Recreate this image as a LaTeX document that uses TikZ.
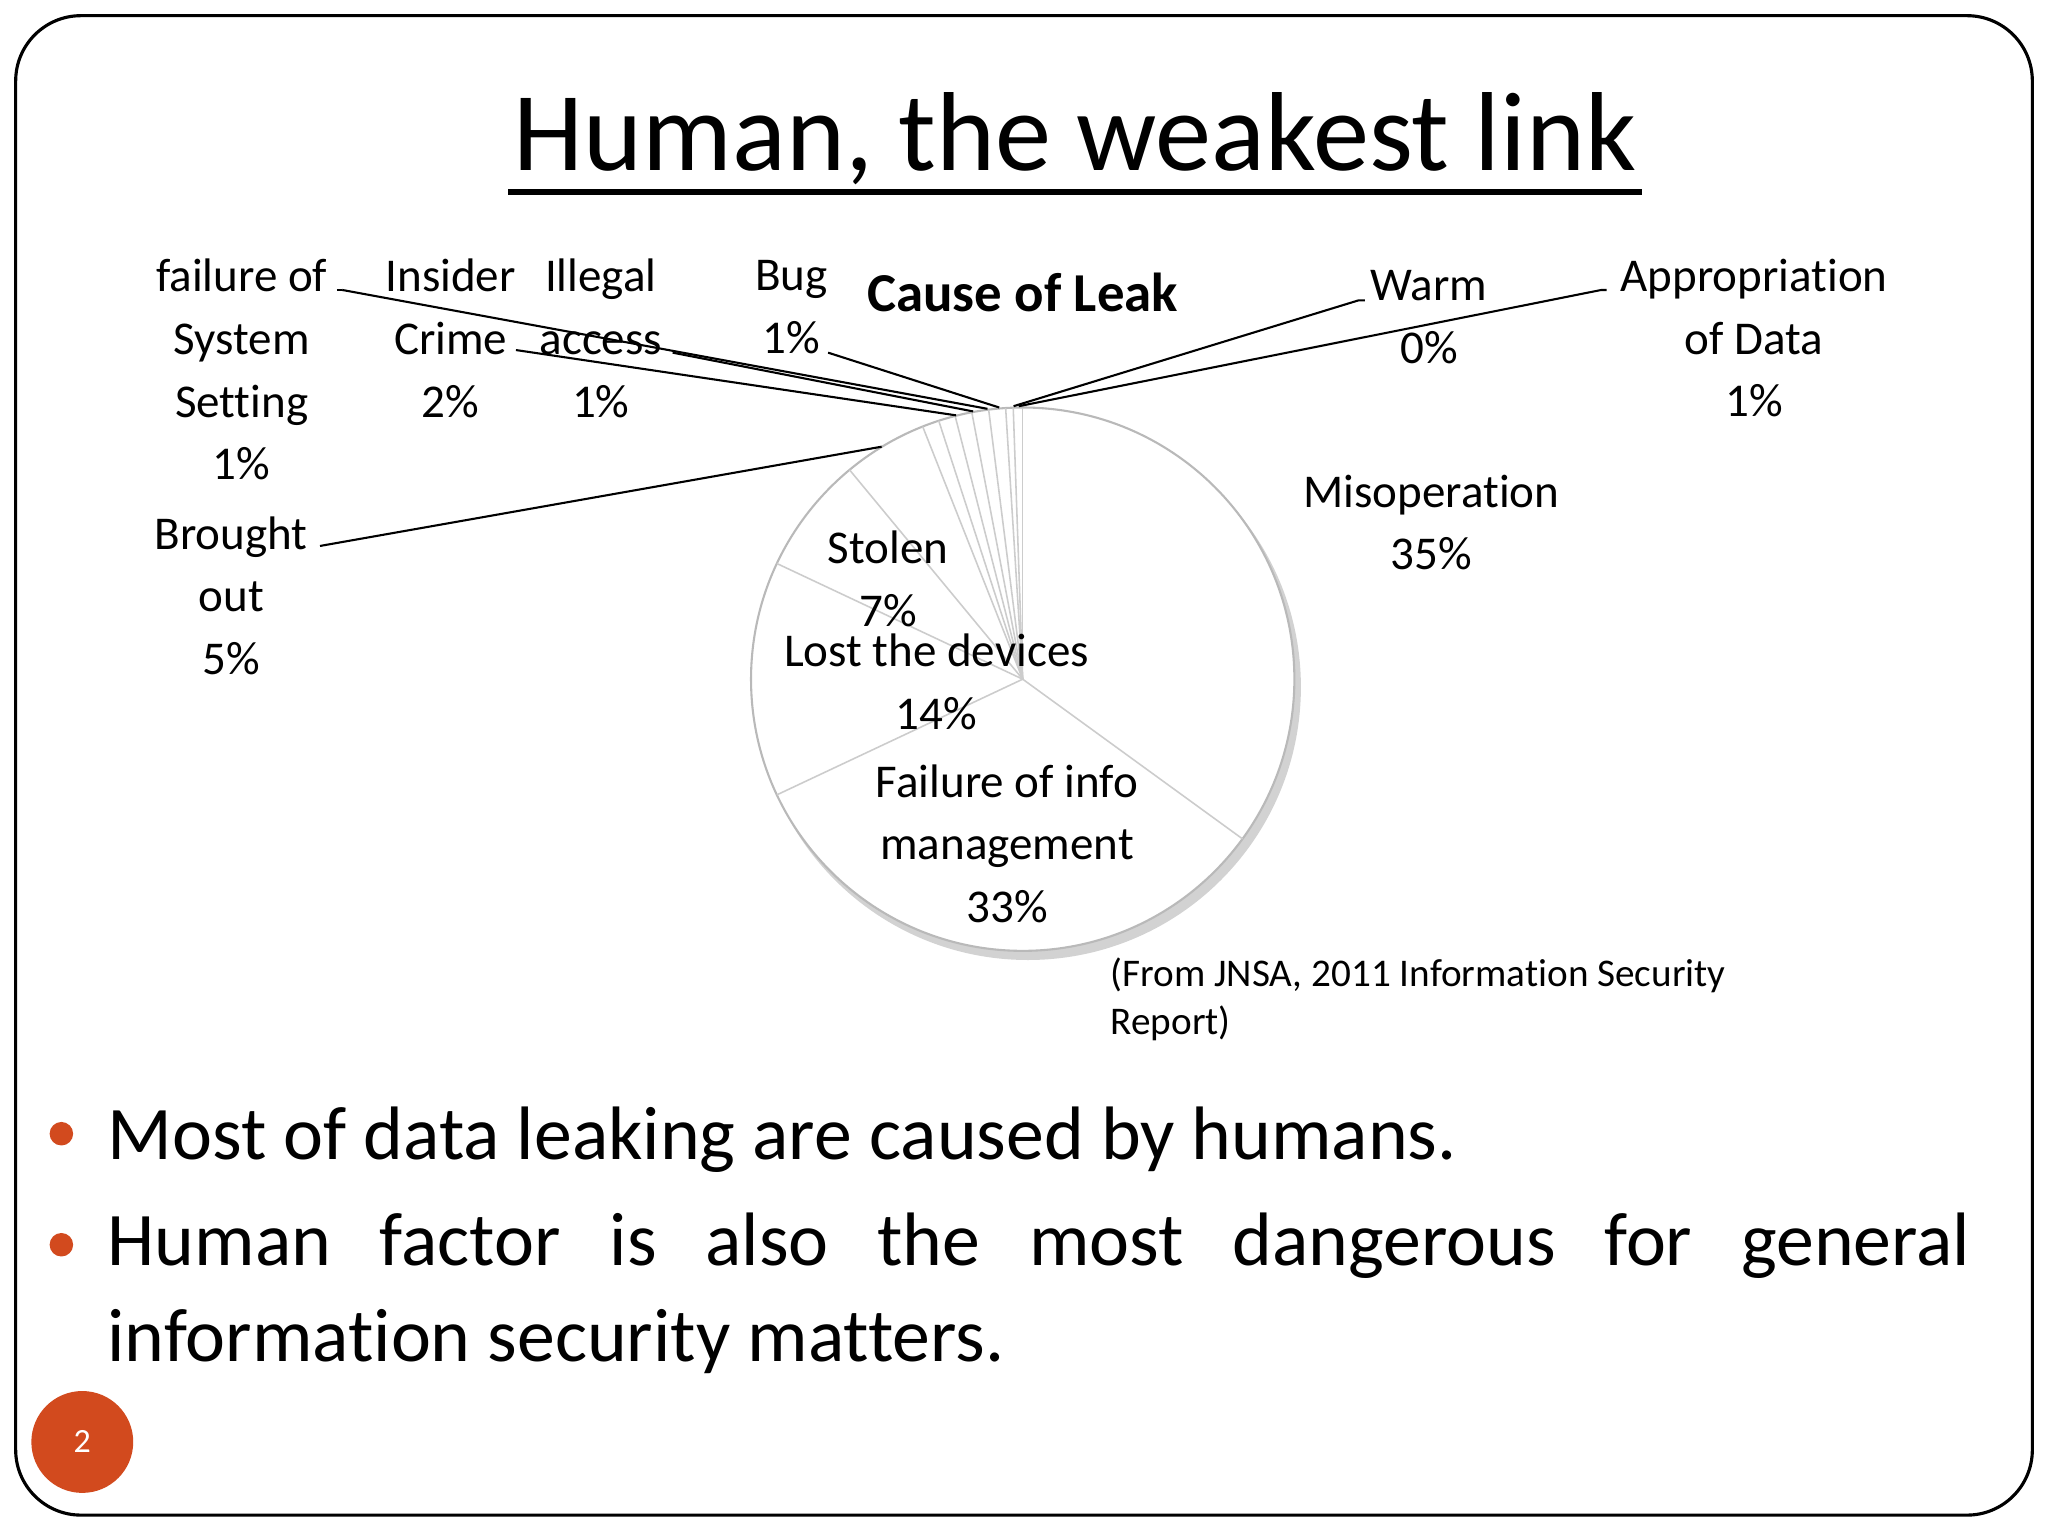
\documentclass[tikz,border=0pt]{standalone}
\usepackage{fontspec}
\setmainfont[Ligatures={NoCommon,NoRare,NoContextual}]{Carlito}
\definecolor{orng}{HTML}{D24A1E}
\hyphenpenalty=10000
\exhyphenpenalty=10000
\begin{document}
\begin{tikzpicture}[x=0.5pt,y=-0.5pt,
  lbl/.style={align=center,font=\fontsize{18}{24}\selectfont,inner sep=0pt},
  lead/.style={draw=black,line width=0.8pt},
  slice/.style={draw=gray!40,line width=0.6pt}]
\useasboundingbox (0,0) rectangle (1568,1176);
\draw[line width=1.2pt,rounded corners=25pt] (12,12) rectangle (1556,1160);
% title
\node[font=\fontsize{43}{50}\selectfont,inner sep=0pt] (title) at (823,106) {Human, the weakest link};
\draw[line width=2.5pt] (389,147) -- (1257,147);
\node[font=\bfseries\fontsize{21}{24}\selectfont,inner sep=0pt] (cause) at (783,224) {Cause of Leak};
% pie
\coordinate (c) at (783,520);
\fill[gray!35] (787,526) circle (209);
\fill[white] (c) circle (208);
\draw[gray!55,line width=0.8pt] (c) circle (208);
\foreach \a in {90,-36,-154.8,-205.2,-230.4,-248.4,-252,-255.6,-259.2,-262.8,-266.4,-268}
  \draw[slice] (c) -- ++({208*cos(\a)},{-208*sin(\a)});
% labels
\node[lbl] (fs) at (185,283) {failure of\\System\\Setting\\1\%};
\node[lbl] (ic) at (345,259) {Insider\\Crime\\2\%};
\node[lbl] (ia) at (460,259) {Illegal\\access\\1\%};
\node[lbl] (bug) at (606,235) {Bug\\1\%};
\node[lbl] (warm) at (1094,243) {Warm\\0\%};
\node[lbl] (app) at (1343,259) {Appropriation\\of Data\\1\%};
\node[lbl] (mis) at (1096,400) {Misoperation\\35\%};
\node[lbl] (sto) at (680,443) {Stolen\\7\%};
\node[lbl] (lost) at (717,522) {Lost the devices\\14\%};
\node[lbl] (fim) at (771,646) {Failure of info\\management\\33\%};
\node[lbl] (bo) at (177,456) {Brought\\out\\5\%};
% leader lines
\coordinate (p1) at (756,313);\coordinate (p2) at (732,318);
\coordinate (p3) at (745,315);\coordinate (p4) at (765,312);
\coordinate (p5) at (776,311);\coordinate (p6) at (780,311);
\coordinate (p7) at (675,342);
\draw[lead] (262,222) -- (p1);
\draw[lead] (258,222) -- (262,222);
\draw[lead] (395,268) -- (p2);
\draw[lead] (515,270) -- (p3);
\draw[lead] (634,270) -- (p4);
\draw[lead] (1045,230) -- (1040,230) -- (p5);
\draw[lead] (1230,222) -- (1226,222) -- (p6);
\draw[lead] (245,418) -- (p7);
% source
\node[align=left,anchor=north west,font=\fontsize{15}{18.5}\selectfont,inner sep=0pt] (src) at (850,733) {(From JNSA, 2011 Information Security\\Report)};
% bullets
\fill[orng] (47,868) circle (9);
\fill[orng] (47,953) circle (9);
\node[anchor=base west,font=\fontsize{29}{37}\selectfont,inner sep=0pt] (b1) at (82,888) {Most of data leaking are caused by humans.};
\node[anchor=north west,text width=713pt,align=justify,font=\fontsize{29}{37}\selectfont,inner sep=0pt] (b2) at (82,928) {Human factor is also the most dangerous for general information security matters.};
% page number
\fill[orng] (63,1104) circle (39);
\node[text=white,font=\fontsize{13}{15}\selectfont] (pg) at (63,1104) {2};
\end{tikzpicture}
\end{document}
